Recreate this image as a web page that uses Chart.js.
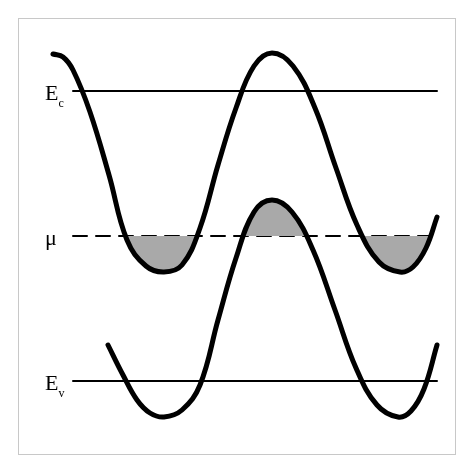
<!DOCTYPE html>
<html><head><meta charset="utf-8">
<script src="https://cdn.jsdelivr.net/npm/chart.js@4"></script>
<style>
  html, body { margin: 0; background: #fff; }
  #wrap { position: relative; width: 474px; height: 473px; }
  #frame { position: absolute; left: 18px; top: 18px; width: 436px; height: 435px; border: 1px solid #c8c8c8; }
</style></head>
<body>
<div id="wrap"><div id="frame"></div><canvas id="c" width="474" height="473"></canvas></div>
<script>
// band edges, pixel-like units (x right, y down)
const conductionBand = [[53,54],[63,57],[73,70],[90,112],[109,175],[127,240],[146,266],[164,272],[182,265],[200,228],[218,165],[236,108],[254,66],[272,53],[293,66],[315,108],[336,168],[357,225],[379,262],[400,272],[413,267],[426,248],[437,217]];
const valenceBand = [[108,345],[123,375],[137,400],[150,413],[164,417],[182,410],[200,385],[218,320],[236,258],[254,212],[272,200],[292,212],[313,250],[335,310],[356,368],[377,405],[398,417],[411,411],[424,389],[437,345]];
const levelX = [73, 437];
const levelEc = 91, levelMu = 236, levelEv = 381;
const levelLabels = [['E', 'c', levelEc], ['μ', '', levelMu], ['E', 'v', levelEv]];

const pts = a => a.map(([x, y]) => ({ x, y }));
const flat = y => levelX.map(x => ({ x, y }));
const gray = '#a9a9a9';

const labelsPlugin = {
  id: 'levelLabels',
  afterDraw(chart) {
    const ctx = chart.ctx, ys = chart.scales.y, xs = chart.scales.x;
    ctx.save();
    ctx.fillStyle = '#000';
    ctx.textBaseline = 'middle';
    levelLabels.forEach(([main, sub, v]) => {
      const y = ys.getPixelForValue(v), x = xs.getPixelForValue(45);
      ctx.font = '22px "Liberation Serif"';
      ctx.fillText(main, x, y + 3);
      if (sub) {
        const w = ctx.measureText(main).width;
        ctx.font = '12px "Liberation Serif"';
        ctx.fillText(sub, x + w, y + 13);
      }
    });
    ctx.restore();
  }
};

new Chart(document.getElementById('c'), {
  type: 'line',
  data: {
    datasets: [
      { data: pts(conductionBand), borderColor: '#000', borderWidth: 5, tension: 0.4,
        fill: { target: { value: levelMu }, above: 'rgba(0,0,0,0)', below: gray } },
      { data: pts(valenceBand), borderColor: '#000', borderWidth: 5, tension: 0.4,
        fill: { target: { value: levelMu }, above: gray, below: 'rgba(0,0,0,0)' } },
      { data: flat(levelEc), borderColor: '#000', borderWidth: 2, fill: false },
      { data: flat(levelMu), borderColor: '#000', borderWidth: 2, borderDash: [14, 9], fill: false },
      { data: flat(levelEv), borderColor: '#000', borderWidth: 2, fill: false }
    ]
  },
  options: {
    responsive: false, animation: false,
    layout: { padding: 0 },
    elements: { point: { radius: 0 }, line: { borderCapStyle: 'round' } },
    plugins: { legend: { display: false }, tooltip: { enabled: false } },
    scales: {
      x: { type: 'linear', min: 0, max: 474, display: false },
      y: { type: 'linear', min: 0, max: 473, reverse: true, display: false }
    }
  },
  plugins: [labelsPlugin]
});
</script>
</body></html>
